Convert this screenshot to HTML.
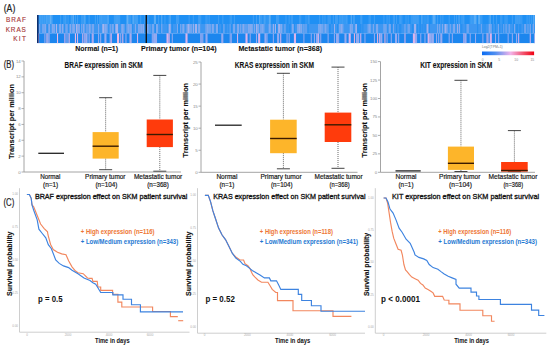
<!DOCTYPE html>
<html><head><meta charset="utf-8"><style>
html,body{margin:0;padding:0;background:#fff;}
body{width:550px;height:349px;overflow:hidden;}
svg{display:block;font-family:"Liberation Sans", sans-serif;}
</style></head><body>
<svg width="550" height="349" viewBox="0 0 550 349">
<rect width="550" height="349" fill="#fff"/>
<text x="3.70" y="12.20" font-size="10" font-weight="normal" fill="#222" stroke="#222" stroke-width="0.2" textLength="11.60" lengthAdjust="spacingAndGlyphs" >(A)</text>
<text x="6.00" y="22.30" font-size="6.4" font-weight="normal" fill="#a83a3a" stroke="#a83a3a" stroke-width="0.15" textLength="19.80" lengthAdjust="spacing" >BRAF</text>
<text x="5.70" y="31.90" font-size="6.4" font-weight="normal" fill="#a83a3a" stroke="#a83a3a" stroke-width="0.15" textLength="20.10" lengthAdjust="spacing" >KRAS</text>
<text x="13.20" y="41.20" font-size="6.4" font-weight="normal" fill="#a83a3a" stroke="#a83a3a" stroke-width="0.15" textLength="12.60" lengthAdjust="spacing" >KIT</text>
<rect x="37" y="15.0" width="498" height="9.00" fill="#1f90f4"/>
<rect x="37.00" y="15.0" width="1.05" height="9.00" fill="#40a0f5"/>
<rect x="38.05" y="15.0" width="1.05" height="9.00" fill="#40a0f5"/>
<rect x="39.11" y="15.0" width="2.11" height="9.00" fill="#40a0f5"/>
<rect x="41.21" y="15.0" width="2.11" height="9.00" fill="#40a0f5"/>
<rect x="43.32" y="15.0" width="2.11" height="9.00" fill="#40a0f5"/>
<rect x="45.42" y="15.0" width="1.05" height="9.00" fill="#40a0f5"/>
<rect x="46.48" y="15.0" width="1.05" height="9.00" fill="#62b0f5"/>
<rect x="47.53" y="15.0" width="2.11" height="9.00" fill="#40a0f5"/>
<rect x="49.63" y="15.0" width="2.11" height="9.00" fill="#62b0f5"/>
<rect x="51.74" y="15.0" width="1.05" height="9.00" fill="#40a0f5"/>
<rect x="60.16" y="15.0" width="1.05" height="9.00" fill="#40a0f5"/>
<rect x="63.32" y="15.0" width="1.05" height="9.00" fill="#40a0f5"/>
<rect x="64.37" y="15.0" width="2.11" height="9.00" fill="#40a0f5"/>
<rect x="67.53" y="15.0" width="1.05" height="9.00" fill="#40a0f5"/>
<rect x="70.69" y="15.0" width="2.11" height="9.00" fill="#40a0f5"/>
<rect x="72.80" y="15.0" width="1.05" height="9.00" fill="#62b0f5"/>
<rect x="74.90" y="15.0" width="1.05" height="9.00" fill="#40a0f5"/>
<rect x="77.01" y="15.0" width="1.05" height="9.00" fill="#40a0f5"/>
<rect x="81.22" y="15.0" width="1.05" height="9.00" fill="#40a0f5"/>
<rect x="82.27" y="15.0" width="1.05" height="9.00" fill="#40a0f5"/>
<rect x="83.33" y="15.0" width="1.05" height="9.00" fill="#40a0f5"/>
<rect x="84.38" y="15.0" width="1.05" height="9.00" fill="#62b0f5"/>
<rect x="88.59" y="15.0" width="1.05" height="9.00" fill="#40a0f5"/>
<rect x="94.91" y="15.0" width="1.05" height="9.00" fill="#40a0f5"/>
<rect x="97.01" y="15.0" width="1.05" height="9.00" fill="#40a0f5"/>
<rect x="99.12" y="15.0" width="1.05" height="9.00" fill="#40a0f5"/>
<rect x="100.17" y="15.0" width="2.11" height="9.00" fill="#40a0f5"/>
<rect x="102.28" y="15.0" width="1.05" height="9.00" fill="#40a0f5"/>
<rect x="103.33" y="15.0" width="1.05" height="9.00" fill="#40a0f5"/>
<rect x="104.38" y="15.0" width="1.05" height="9.00" fill="#40a0f5"/>
<rect x="105.44" y="15.0" width="1.05" height="9.00" fill="#40a0f5"/>
<rect x="106.49" y="15.0" width="1.05" height="9.00" fill="#40a0f5"/>
<rect x="107.54" y="15.0" width="1.05" height="9.00" fill="#62b0f5"/>
<rect x="113.86" y="15.0" width="1.05" height="9.00" fill="#40a0f5"/>
<rect x="114.91" y="15.0" width="1.05" height="9.00" fill="#40a0f5"/>
<rect x="115.96" y="15.0" width="2.11" height="9.00" fill="#40a0f5"/>
<rect x="118.07" y="15.0" width="1.05" height="9.00" fill="#40a0f5"/>
<rect x="119.12" y="15.0" width="1.05" height="9.00" fill="#40a0f5"/>
<rect x="126.49" y="15.0" width="2.11" height="9.00" fill="#62b0f5"/>
<rect x="128.60" y="15.0" width="1.05" height="9.00" fill="#40a0f5"/>
<rect x="129.65" y="15.0" width="1.05" height="9.00" fill="#40a0f5"/>
<rect x="131.76" y="15.0" width="1.05" height="9.00" fill="#40a0f5"/>
<rect x="132.81" y="15.0" width="1.05" height="9.00" fill="#62b0f5"/>
<rect x="133.86" y="15.0" width="1.05" height="9.00" fill="#40a0f5"/>
<rect x="134.92" y="15.0" width="2.11" height="9.00" fill="#40a0f5"/>
<rect x="137.02" y="15.0" width="1.05" height="9.00" fill="#40a0f5"/>
<rect x="140.18" y="15.0" width="1.05" height="9.00" fill="#40a0f5"/>
<rect x="144.39" y="15.0" width="1.05" height="9.00" fill="#40a0f5"/>
<rect x="147.55" y="15.0" width="1.05" height="9.00" fill="#3e9ef5"/>
<rect x="153.87" y="15.0" width="2.11" height="9.00" fill="#5aacf5"/>
<rect x="158.08" y="15.0" width="1.05" height="9.00" fill="#3e9ef5"/>
<rect x="161.24" y="15.0" width="1.05" height="9.00" fill="#5aacf5"/>
<rect x="164.40" y="15.0" width="1.05" height="9.00" fill="#3e9ef5"/>
<rect x="168.61" y="15.0" width="1.05" height="9.00" fill="#3e9ef5"/>
<rect x="169.66" y="15.0" width="1.05" height="9.00" fill="#5aacf5"/>
<rect x="175.98" y="15.0" width="1.05" height="9.00" fill="#3e9ef5"/>
<rect x="177.03" y="15.0" width="1.05" height="9.00" fill="#3e9ef5"/>
<rect x="178.08" y="15.0" width="1.05" height="9.00" fill="#3e9ef5"/>
<rect x="188.61" y="15.0" width="1.05" height="9.00" fill="#3e9ef5"/>
<rect x="192.82" y="15.0" width="1.05" height="9.00" fill="#3e9ef5"/>
<rect x="198.09" y="15.0" width="2.11" height="9.00" fill="#3e9ef5"/>
<rect x="200.19" y="15.0" width="1.05" height="9.00" fill="#3e9ef5"/>
<rect x="205.46" y="15.0" width="1.05" height="9.00" fill="#3e9ef5"/>
<rect x="206.51" y="15.0" width="1.05" height="9.00" fill="#3e9ef5"/>
<rect x="208.62" y="15.0" width="1.05" height="9.00" fill="#3e9ef5"/>
<rect x="218.09" y="15.0" width="1.05" height="9.00" fill="#3e9ef5"/>
<rect x="222.30" y="15.0" width="1.05" height="9.00" fill="#3e9ef5"/>
<rect x="229.67" y="15.0" width="1.05" height="9.00" fill="#3e9ef5"/>
<rect x="230.73" y="15.0" width="1.05" height="9.00" fill="#3e9ef5"/>
<rect x="233.88" y="15.0" width="1.05" height="9.00" fill="#3e9ef5"/>
<rect x="252.84" y="15.0" width="1.05" height="9.00" fill="#3e9ef5"/>
<rect x="255.99" y="15.0" width="1.05" height="9.00" fill="#3e9ef5"/>
<rect x="259.15" y="15.0" width="1.05" height="9.00" fill="#5aacf5"/>
<rect x="260.21" y="15.0" width="1.05" height="9.00" fill="#3e9ef5"/>
<rect x="261.26" y="15.0" width="1.05" height="9.00" fill="#3e9ef5"/>
<rect x="263.36" y="15.0" width="1.05" height="9.00" fill="#3e9ef5"/>
<rect x="264.42" y="15.0" width="1.05" height="9.00" fill="#5aacf5"/>
<rect x="266.52" y="15.0" width="1.05" height="9.00" fill="#3e9ef5"/>
<rect x="268.63" y="15.0" width="2.11" height="9.00" fill="#5aacf5"/>
<rect x="276.00" y="15.0" width="1.05" height="9.00" fill="#3e9ef5"/>
<rect x="277.05" y="15.0" width="1.05" height="9.00" fill="#3e9ef5"/>
<rect x="278.10" y="15.0" width="1.05" height="9.00" fill="#3e9ef5"/>
<rect x="285.47" y="15.0" width="1.05" height="9.00" fill="#3e9ef5"/>
<rect x="288.63" y="15.0" width="1.05" height="9.00" fill="#3e9ef5"/>
<rect x="290.74" y="15.0" width="1.05" height="9.00" fill="#3e9ef5"/>
<rect x="291.79" y="15.0" width="1.05" height="9.00" fill="#3e9ef5"/>
<rect x="299.16" y="15.0" width="1.05" height="9.00" fill="#3e9ef5"/>
<rect x="300.21" y="15.0" width="1.05" height="9.00" fill="#3e9ef5"/>
<rect x="305.48" y="15.0" width="1.05" height="9.00" fill="#3e9ef5"/>
<rect x="307.58" y="15.0" width="2.11" height="9.00" fill="#3e9ef5"/>
<rect x="319.16" y="15.0" width="1.05" height="9.00" fill="#3e9ef5"/>
<rect x="322.32" y="15.0" width="1.05" height="9.00" fill="#3e9ef5"/>
<rect x="324.43" y="15.0" width="1.05" height="9.00" fill="#3e9ef5"/>
<rect x="327.59" y="15.0" width="1.05" height="9.00" fill="#3e9ef5"/>
<rect x="328.64" y="15.0" width="1.05" height="9.00" fill="#3e9ef5"/>
<rect x="329.69" y="15.0" width="1.05" height="9.00" fill="#3e9ef5"/>
<rect x="332.85" y="15.0" width="1.05" height="9.00" fill="#3e9ef5"/>
<rect x="334.96" y="15.0" width="1.05" height="9.00" fill="#3e9ef5"/>
<rect x="336.01" y="15.0" width="1.05" height="9.00" fill="#3e9ef5"/>
<rect x="337.06" y="15.0" width="1.05" height="9.00" fill="#3e9ef5"/>
<rect x="339.17" y="15.0" width="1.05" height="9.00" fill="#3e9ef5"/>
<rect x="340.22" y="15.0" width="1.05" height="9.00" fill="#3e9ef5"/>
<rect x="341.27" y="15.0" width="2.11" height="9.00" fill="#3e9ef5"/>
<rect x="343.38" y="15.0" width="1.05" height="9.00" fill="#3e9ef5"/>
<rect x="344.43" y="15.0" width="1.05" height="9.00" fill="#3e9ef5"/>
<rect x="345.49" y="15.0" width="2.11" height="9.00" fill="#3e9ef5"/>
<rect x="350.75" y="15.0" width="1.05" height="9.00" fill="#5aacf5"/>
<rect x="352.86" y="15.0" width="2.11" height="9.00" fill="#3e9ef5"/>
<rect x="360.23" y="15.0" width="2.11" height="9.00" fill="#3e9ef5"/>
<rect x="368.65" y="15.0" width="1.05" height="9.00" fill="#3e9ef5"/>
<rect x="369.70" y="15.0" width="1.05" height="9.00" fill="#3e9ef5"/>
<rect x="373.91" y="15.0" width="1.05" height="9.00" fill="#3e9ef5"/>
<rect x="383.39" y="15.0" width="1.05" height="9.00" fill="#3e9ef5"/>
<rect x="386.55" y="15.0" width="1.05" height="9.00" fill="#3e9ef5"/>
<rect x="388.65" y="15.0" width="1.05" height="9.00" fill="#3e9ef5"/>
<rect x="392.86" y="15.0" width="1.05" height="9.00" fill="#3e9ef5"/>
<rect x="393.92" y="15.0" width="1.05" height="9.00" fill="#3e9ef5"/>
<rect x="396.02" y="15.0" width="1.05" height="9.00" fill="#3e9ef5"/>
<rect x="399.18" y="15.0" width="2.11" height="9.00" fill="#3e9ef5"/>
<rect x="401.29" y="15.0" width="1.05" height="9.00" fill="#3e9ef5"/>
<rect x="405.50" y="15.0" width="1.05" height="9.00" fill="#3e9ef5"/>
<rect x="407.60" y="15.0" width="1.05" height="9.00" fill="#3e9ef5"/>
<rect x="410.76" y="15.0" width="1.05" height="9.00" fill="#3e9ef5"/>
<rect x="411.82" y="15.0" width="1.05" height="9.00" fill="#3e9ef5"/>
<rect x="412.87" y="15.0" width="2.11" height="9.00" fill="#3e9ef5"/>
<rect x="414.97" y="15.0" width="1.05" height="9.00" fill="#3e9ef5"/>
<rect x="416.03" y="15.0" width="2.11" height="9.00" fill="#3e9ef5"/>
<rect x="418.13" y="15.0" width="1.05" height="9.00" fill="#3e9ef5"/>
<rect x="421.29" y="15.0" width="1.05" height="9.00" fill="#5aacf5"/>
<rect x="422.34" y="15.0" width="1.05" height="9.00" fill="#3e9ef5"/>
<rect x="424.45" y="15.0" width="1.05" height="9.00" fill="#3e9ef5"/>
<rect x="426.56" y="15.0" width="1.05" height="9.00" fill="#3e9ef5"/>
<rect x="427.61" y="15.0" width="1.05" height="9.00" fill="#3e9ef5"/>
<rect x="431.82" y="15.0" width="1.05" height="9.00" fill="#3e9ef5"/>
<rect x="432.87" y="15.0" width="2.11" height="9.00" fill="#5aacf5"/>
<rect x="434.98" y="15.0" width="1.05" height="9.00" fill="#3e9ef5"/>
<rect x="437.08" y="15.0" width="1.05" height="9.00" fill="#3e9ef5"/>
<rect x="440.24" y="15.0" width="1.05" height="9.00" fill="#3e9ef5"/>
<rect x="442.35" y="15.0" width="1.05" height="9.00" fill="#3e9ef5"/>
<rect x="448.67" y="15.0" width="1.05" height="9.00" fill="#3e9ef5"/>
<rect x="453.93" y="15.0" width="1.05" height="9.00" fill="#3e9ef5"/>
<rect x="456.04" y="15.0" width="1.05" height="9.00" fill="#3e9ef5"/>
<rect x="458.14" y="15.0" width="2.11" height="9.00" fill="#3e9ef5"/>
<rect x="461.30" y="15.0" width="1.05" height="9.00" fill="#3e9ef5"/>
<rect x="462.35" y="15.0" width="2.11" height="9.00" fill="#3e9ef5"/>
<rect x="469.72" y="15.0" width="1.05" height="9.00" fill="#3e9ef5"/>
<rect x="470.78" y="15.0" width="2.11" height="9.00" fill="#3e9ef5"/>
<rect x="472.88" y="15.0" width="1.05" height="9.00" fill="#3e9ef5"/>
<rect x="473.93" y="15.0" width="2.11" height="9.00" fill="#5aacf5"/>
<rect x="476.04" y="15.0" width="1.05" height="9.00" fill="#3e9ef5"/>
<rect x="478.15" y="15.0" width="2.11" height="9.00" fill="#5aacf5"/>
<rect x="480.25" y="15.0" width="1.05" height="9.00" fill="#3e9ef5"/>
<rect x="481.30" y="15.0" width="1.05" height="9.00" fill="#3e9ef5"/>
<rect x="488.67" y="15.0" width="1.05" height="9.00" fill="#3e9ef5"/>
<rect x="489.73" y="15.0" width="1.05" height="9.00" fill="#5aacf5"/>
<rect x="492.89" y="15.0" width="1.05" height="9.00" fill="#3e9ef5"/>
<rect x="496.04" y="15.0" width="1.05" height="9.00" fill="#3e9ef5"/>
<rect x="500.26" y="15.0" width="1.05" height="9.00" fill="#3e9ef5"/>
<rect x="501.31" y="15.0" width="1.05" height="9.00" fill="#3e9ef5"/>
<rect x="504.47" y="15.0" width="1.05" height="9.00" fill="#3e9ef5"/>
<rect x="505.52" y="15.0" width="1.05" height="9.00" fill="#3e9ef5"/>
<rect x="506.57" y="15.0" width="1.05" height="9.00" fill="#3e9ef5"/>
<rect x="511.84" y="15.0" width="1.05" height="9.00" fill="#3e9ef5"/>
<rect x="515.00" y="15.0" width="1.05" height="9.00" fill="#3e9ef5"/>
<rect x="516.05" y="15.0" width="2.11" height="9.00" fill="#3e9ef5"/>
<rect x="518.15" y="15.0" width="2.11" height="9.00" fill="#3e9ef5"/>
<rect x="520.26" y="15.0" width="1.05" height="9.00" fill="#3e9ef5"/>
<rect x="521.31" y="15.0" width="1.05" height="9.00" fill="#3e9ef5"/>
<rect x="526.58" y="15.0" width="1.05" height="9.00" fill="#3e9ef5"/>
<rect x="528.68" y="15.0" width="1.05" height="9.00" fill="#3e9ef5"/>
<rect x="530.79" y="15.0" width="1.05" height="9.00" fill="#3e9ef5"/>
<rect x="532.89" y="15.0" width="1.05" height="9.00" fill="#5aacf5"/>
<rect x="533.95" y="15.0" width="1.05" height="9.00" fill="#3e9ef5"/>
<rect x="37" y="24.0" width="498" height="9.40" fill="#3d97f2"/>
<rect x="39.11" y="24.0" width="1.05" height="9.40" fill="#80aaf0"/>
<rect x="42.26" y="24.0" width="1.05" height="9.40" fill="#80aaf0"/>
<rect x="43.32" y="24.0" width="1.05" height="9.40" fill="#80aaf0"/>
<rect x="44.37" y="24.0" width="2.11" height="9.40" fill="#80aaf0"/>
<rect x="46.48" y="24.0" width="1.05" height="9.40" fill="#2590f2"/>
<rect x="48.58" y="24.0" width="1.05" height="9.40" fill="#a4b4ee"/>
<rect x="51.74" y="24.0" width="2.11" height="9.40" fill="#80aaf0"/>
<rect x="53.85" y="24.0" width="1.05" height="9.40" fill="#80aaf0"/>
<rect x="55.95" y="24.0" width="1.05" height="9.40" fill="#a4b4ee"/>
<rect x="59.11" y="24.0" width="2.11" height="9.40" fill="#80aaf0"/>
<rect x="62.27" y="24.0" width="1.05" height="9.40" fill="#a4b4ee"/>
<rect x="64.37" y="24.0" width="1.05" height="9.40" fill="#2590f2"/>
<rect x="65.43" y="24.0" width="1.05" height="9.40" fill="#80aaf0"/>
<rect x="66.48" y="24.0" width="1.05" height="9.40" fill="#80aaf0"/>
<rect x="68.59" y="24.0" width="1.05" height="9.40" fill="#2590f2"/>
<rect x="69.64" y="24.0" width="1.05" height="9.40" fill="#a4b4ee"/>
<rect x="71.74" y="24.0" width="1.05" height="9.40" fill="#80aaf0"/>
<rect x="72.80" y="24.0" width="2.11" height="9.40" fill="#80aaf0"/>
<rect x="75.96" y="24.0" width="1.05" height="9.40" fill="#a4b4ee"/>
<rect x="77.01" y="24.0" width="1.05" height="9.40" fill="#80aaf0"/>
<rect x="78.06" y="24.0" width="1.05" height="9.40" fill="#80aaf0"/>
<rect x="79.11" y="24.0" width="1.05" height="9.40" fill="#80aaf0"/>
<rect x="80.17" y="24.0" width="1.05" height="9.40" fill="#2590f2"/>
<rect x="81.22" y="24.0" width="1.05" height="9.40" fill="#80aaf0"/>
<rect x="83.33" y="24.0" width="1.05" height="9.40" fill="#a4b4ee"/>
<rect x="86.48" y="24.0" width="1.05" height="9.40" fill="#80aaf0"/>
<rect x="88.59" y="24.0" width="2.11" height="9.40" fill="#80aaf0"/>
<rect x="91.75" y="24.0" width="1.05" height="9.40" fill="#80aaf0"/>
<rect x="92.80" y="24.0" width="1.05" height="9.40" fill="#80aaf0"/>
<rect x="98.07" y="24.0" width="1.05" height="9.40" fill="#80aaf0"/>
<rect x="102.28" y="24.0" width="2.11" height="9.40" fill="#a4b4ee"/>
<rect x="104.38" y="24.0" width="1.05" height="9.40" fill="#80aaf0"/>
<rect x="105.44" y="24.0" width="1.05" height="9.40" fill="#a4b4ee"/>
<rect x="106.49" y="24.0" width="1.05" height="9.40" fill="#80aaf0"/>
<rect x="108.59" y="24.0" width="1.05" height="9.40" fill="#2590f2"/>
<rect x="109.65" y="24.0" width="1.05" height="9.40" fill="#80aaf0"/>
<rect x="111.75" y="24.0" width="1.05" height="9.40" fill="#80aaf0"/>
<rect x="112.81" y="24.0" width="1.05" height="9.40" fill="#80aaf0"/>
<rect x="113.86" y="24.0" width="1.05" height="9.40" fill="#2590f2"/>
<rect x="114.91" y="24.0" width="1.05" height="9.40" fill="#80aaf0"/>
<rect x="115.96" y="24.0" width="2.11" height="9.40" fill="#a4b4ee"/>
<rect x="121.23" y="24.0" width="2.11" height="9.40" fill="#80aaf0"/>
<rect x="123.33" y="24.0" width="1.05" height="9.40" fill="#80aaf0"/>
<rect x="125.44" y="24.0" width="1.05" height="9.40" fill="#2590f2"/>
<rect x="126.49" y="24.0" width="1.05" height="9.40" fill="#80aaf0"/>
<rect x="127.55" y="24.0" width="2.11" height="9.40" fill="#80aaf0"/>
<rect x="129.65" y="24.0" width="1.05" height="9.40" fill="#80aaf0"/>
<rect x="130.70" y="24.0" width="1.05" height="9.40" fill="#a4b4ee"/>
<rect x="131.76" y="24.0" width="1.05" height="9.40" fill="#2590f2"/>
<rect x="134.92" y="24.0" width="1.05" height="9.40" fill="#80aaf0"/>
<rect x="138.07" y="24.0" width="1.05" height="9.40" fill="#80aaf0"/>
<rect x="139.13" y="24.0" width="1.05" height="9.40" fill="#80aaf0"/>
<rect x="140.18" y="24.0" width="2.11" height="9.40" fill="#80aaf0"/>
<rect x="142.29" y="24.0" width="1.05" height="9.40" fill="#80aaf0"/>
<rect x="143.34" y="24.0" width="1.05" height="9.40" fill="#a4b4ee"/>
<rect x="144.39" y="24.0" width="1.05" height="9.40" fill="#2590f2"/>
<rect x="146.50" y="24.0" width="2.11" height="9.40" fill="#7eaaf0"/>
<rect x="149.66" y="24.0" width="1.05" height="9.40" fill="#7eaaf0"/>
<rect x="150.71" y="24.0" width="1.05" height="9.40" fill="#2590f2"/>
<rect x="151.76" y="24.0" width="1.05" height="9.40" fill="#7eaaf0"/>
<rect x="152.81" y="24.0" width="1.05" height="9.40" fill="#7eaaf0"/>
<rect x="154.92" y="24.0" width="1.05" height="9.40" fill="#2590f2"/>
<rect x="155.97" y="24.0" width="1.05" height="9.40" fill="#7eaaf0"/>
<rect x="157.03" y="24.0" width="1.05" height="9.40" fill="#7eaaf0"/>
<rect x="160.18" y="24.0" width="1.05" height="9.40" fill="#2590f2"/>
<rect x="161.24" y="24.0" width="1.05" height="9.40" fill="#7eaaf0"/>
<rect x="167.55" y="24.0" width="1.05" height="9.40" fill="#2590f2"/>
<rect x="168.61" y="24.0" width="2.11" height="9.40" fill="#a0b2ee"/>
<rect x="171.77" y="24.0" width="1.05" height="9.40" fill="#2590f2"/>
<rect x="177.03" y="24.0" width="1.05" height="9.40" fill="#7eaaf0"/>
<rect x="178.08" y="24.0" width="1.05" height="9.40" fill="#2590f2"/>
<rect x="179.14" y="24.0" width="1.05" height="9.40" fill="#2590f2"/>
<rect x="180.19" y="24.0" width="1.05" height="9.40" fill="#7eaaf0"/>
<rect x="182.29" y="24.0" width="2.11" height="9.40" fill="#7eaaf0"/>
<rect x="186.51" y="24.0" width="1.05" height="9.40" fill="#7eaaf0"/>
<rect x="187.56" y="24.0" width="2.11" height="9.40" fill="#a0b2ee"/>
<rect x="189.66" y="24.0" width="1.05" height="9.40" fill="#7eaaf0"/>
<rect x="190.72" y="24.0" width="1.05" height="9.40" fill="#7eaaf0"/>
<rect x="192.82" y="24.0" width="1.05" height="9.40" fill="#a0b2ee"/>
<rect x="194.93" y="24.0" width="2.11" height="9.40" fill="#a0b2ee"/>
<rect x="198.09" y="24.0" width="2.11" height="9.40" fill="#7eaaf0"/>
<rect x="205.46" y="24.0" width="1.05" height="9.40" fill="#7eaaf0"/>
<rect x="206.51" y="24.0" width="2.11" height="9.40" fill="#7eaaf0"/>
<rect x="208.62" y="24.0" width="1.05" height="9.40" fill="#7eaaf0"/>
<rect x="209.67" y="24.0" width="1.05" height="9.40" fill="#7eaaf0"/>
<rect x="211.77" y="24.0" width="2.11" height="9.40" fill="#7eaaf0"/>
<rect x="215.99" y="24.0" width="2.11" height="9.40" fill="#7eaaf0"/>
<rect x="218.09" y="24.0" width="1.05" height="9.40" fill="#2590f2"/>
<rect x="221.25" y="24.0" width="1.05" height="9.40" fill="#2590f2"/>
<rect x="222.30" y="24.0" width="1.05" height="9.40" fill="#2590f2"/>
<rect x="223.36" y="24.0" width="1.05" height="9.40" fill="#7eaaf0"/>
<rect x="225.46" y="24.0" width="1.05" height="9.40" fill="#2590f2"/>
<rect x="228.62" y="24.0" width="1.05" height="9.40" fill="#2590f2"/>
<rect x="229.67" y="24.0" width="1.05" height="9.40" fill="#7eaaf0"/>
<rect x="230.73" y="24.0" width="1.05" height="9.40" fill="#2590f2"/>
<rect x="231.78" y="24.0" width="1.05" height="9.40" fill="#2590f2"/>
<rect x="232.83" y="24.0" width="1.05" height="9.40" fill="#7eaaf0"/>
<rect x="233.88" y="24.0" width="1.05" height="9.40" fill="#7eaaf0"/>
<rect x="237.04" y="24.0" width="2.11" height="9.40" fill="#7eaaf0"/>
<rect x="240.20" y="24.0" width="1.05" height="9.40" fill="#7eaaf0"/>
<rect x="242.31" y="24.0" width="1.05" height="9.40" fill="#7eaaf0"/>
<rect x="243.36" y="24.0" width="1.05" height="9.40" fill="#a0b2ee"/>
<rect x="245.47" y="24.0" width="1.05" height="9.40" fill="#7eaaf0"/>
<rect x="247.57" y="24.0" width="2.11" height="9.40" fill="#7eaaf0"/>
<rect x="249.68" y="24.0" width="1.05" height="9.40" fill="#a0b2ee"/>
<rect x="250.73" y="24.0" width="2.11" height="9.40" fill="#7eaaf0"/>
<rect x="253.89" y="24.0" width="1.05" height="9.40" fill="#7eaaf0"/>
<rect x="255.99" y="24.0" width="1.05" height="9.40" fill="#a0b2ee"/>
<rect x="257.05" y="24.0" width="1.05" height="9.40" fill="#7eaaf0"/>
<rect x="258.10" y="24.0" width="1.05" height="9.40" fill="#7eaaf0"/>
<rect x="260.21" y="24.0" width="1.05" height="9.40" fill="#7eaaf0"/>
<rect x="261.26" y="24.0" width="2.11" height="9.40" fill="#7eaaf0"/>
<rect x="263.36" y="24.0" width="1.05" height="9.40" fill="#7eaaf0"/>
<rect x="268.63" y="24.0" width="2.11" height="9.40" fill="#7eaaf0"/>
<rect x="272.84" y="24.0" width="1.05" height="9.40" fill="#a0b2ee"/>
<rect x="274.95" y="24.0" width="1.05" height="9.40" fill="#a0b2ee"/>
<rect x="276.00" y="24.0" width="1.05" height="9.40" fill="#2590f2"/>
<rect x="278.10" y="24.0" width="2.11" height="9.40" fill="#a0b2ee"/>
<rect x="280.21" y="24.0" width="2.11" height="9.40" fill="#7eaaf0"/>
<rect x="284.42" y="24.0" width="1.05" height="9.40" fill="#7eaaf0"/>
<rect x="286.53" y="24.0" width="1.05" height="9.40" fill="#2590f2"/>
<rect x="288.63" y="24.0" width="2.11" height="9.40" fill="#2590f2"/>
<rect x="291.79" y="24.0" width="2.11" height="9.40" fill="#7eaaf0"/>
<rect x="293.90" y="24.0" width="1.05" height="9.40" fill="#2590f2"/>
<rect x="297.05" y="24.0" width="2.11" height="9.40" fill="#7eaaf0"/>
<rect x="299.16" y="24.0" width="1.05" height="9.40" fill="#a0b2ee"/>
<rect x="300.21" y="24.0" width="2.11" height="9.40" fill="#7eaaf0"/>
<rect x="303.37" y="24.0" width="1.05" height="9.40" fill="#7eaaf0"/>
<rect x="305.48" y="24.0" width="1.05" height="9.40" fill="#7eaaf0"/>
<rect x="307.58" y="24.0" width="1.05" height="9.40" fill="#2590f2"/>
<rect x="318.11" y="24.0" width="1.05" height="9.40" fill="#7eaaf0"/>
<rect x="319.16" y="24.0" width="2.11" height="9.40" fill="#7eaaf0"/>
<rect x="321.27" y="24.0" width="1.05" height="9.40" fill="#7eaaf0"/>
<rect x="322.32" y="24.0" width="1.05" height="9.40" fill="#7eaaf0"/>
<rect x="324.43" y="24.0" width="2.11" height="9.40" fill="#7eaaf0"/>
<rect x="327.59" y="24.0" width="1.05" height="9.40" fill="#7eaaf0"/>
<rect x="328.64" y="24.0" width="2.11" height="9.40" fill="#2590f2"/>
<rect x="332.85" y="24.0" width="1.05" height="9.40" fill="#2590f2"/>
<rect x="333.90" y="24.0" width="1.05" height="9.40" fill="#a0b2ee"/>
<rect x="337.06" y="24.0" width="1.05" height="9.40" fill="#2590f2"/>
<rect x="339.17" y="24.0" width="1.05" height="9.40" fill="#7eaaf0"/>
<rect x="340.22" y="24.0" width="1.05" height="9.40" fill="#7eaaf0"/>
<rect x="341.27" y="24.0" width="1.05" height="9.40" fill="#a0b2ee"/>
<rect x="342.33" y="24.0" width="1.05" height="9.40" fill="#7eaaf0"/>
<rect x="349.70" y="24.0" width="2.11" height="9.40" fill="#7eaaf0"/>
<rect x="351.80" y="24.0" width="1.05" height="9.40" fill="#7eaaf0"/>
<rect x="354.96" y="24.0" width="1.05" height="9.40" fill="#7eaaf0"/>
<rect x="356.01" y="24.0" width="1.05" height="9.40" fill="#a0b2ee"/>
<rect x="357.07" y="24.0" width="2.11" height="9.40" fill="#2590f2"/>
<rect x="359.17" y="24.0" width="2.11" height="9.40" fill="#2590f2"/>
<rect x="362.33" y="24.0" width="1.05" height="9.40" fill="#2590f2"/>
<rect x="367.60" y="24.0" width="1.05" height="9.40" fill="#7eaaf0"/>
<rect x="368.65" y="24.0" width="2.11" height="9.40" fill="#7eaaf0"/>
<rect x="372.86" y="24.0" width="1.05" height="9.40" fill="#7eaaf0"/>
<rect x="376.02" y="24.0" width="2.11" height="9.40" fill="#7eaaf0"/>
<rect x="383.39" y="24.0" width="1.05" height="9.40" fill="#7eaaf0"/>
<rect x="384.44" y="24.0" width="1.05" height="9.40" fill="#7eaaf0"/>
<rect x="385.49" y="24.0" width="1.05" height="9.40" fill="#7eaaf0"/>
<rect x="387.60" y="24.0" width="1.05" height="9.40" fill="#2590f2"/>
<rect x="388.65" y="24.0" width="1.05" height="9.40" fill="#7eaaf0"/>
<rect x="389.71" y="24.0" width="1.05" height="9.40" fill="#a0b2ee"/>
<rect x="390.76" y="24.0" width="1.05" height="9.40" fill="#2590f2"/>
<rect x="391.81" y="24.0" width="1.05" height="9.40" fill="#2590f2"/>
<rect x="392.86" y="24.0" width="1.05" height="9.40" fill="#7eaaf0"/>
<rect x="396.02" y="24.0" width="1.05" height="9.40" fill="#2590f2"/>
<rect x="399.18" y="24.0" width="1.05" height="9.40" fill="#2590f2"/>
<rect x="400.23" y="24.0" width="1.05" height="9.40" fill="#2590f2"/>
<rect x="404.45" y="24.0" width="1.05" height="9.40" fill="#7eaaf0"/>
<rect x="407.60" y="24.0" width="1.05" height="9.40" fill="#7eaaf0"/>
<rect x="408.66" y="24.0" width="1.05" height="9.40" fill="#7eaaf0"/>
<rect x="411.82" y="24.0" width="2.11" height="9.40" fill="#2590f2"/>
<rect x="413.92" y="24.0" width="1.05" height="9.40" fill="#a0b2ee"/>
<rect x="414.97" y="24.0" width="1.05" height="9.40" fill="#a0b2ee"/>
<rect x="417.08" y="24.0" width="1.05" height="9.40" fill="#2590f2"/>
<rect x="419.19" y="24.0" width="2.11" height="9.40" fill="#2590f2"/>
<rect x="422.34" y="24.0" width="1.05" height="9.40" fill="#2590f2"/>
<rect x="424.45" y="24.0" width="1.05" height="9.40" fill="#2590f2"/>
<rect x="425.50" y="24.0" width="1.05" height="9.40" fill="#2590f2"/>
<rect x="426.56" y="24.0" width="2.11" height="9.40" fill="#a0b2ee"/>
<rect x="428.66" y="24.0" width="1.05" height="9.40" fill="#2590f2"/>
<rect x="437.08" y="24.0" width="1.05" height="9.40" fill="#7eaaf0"/>
<rect x="439.19" y="24.0" width="1.05" height="9.40" fill="#7eaaf0"/>
<rect x="442.35" y="24.0" width="1.05" height="9.40" fill="#a0b2ee"/>
<rect x="443.40" y="24.0" width="1.05" height="9.40" fill="#2590f2"/>
<rect x="444.45" y="24.0" width="2.11" height="9.40" fill="#a0b2ee"/>
<rect x="446.56" y="24.0" width="1.05" height="9.40" fill="#7eaaf0"/>
<rect x="449.72" y="24.0" width="1.05" height="9.40" fill="#7eaaf0"/>
<rect x="452.88" y="24.0" width="1.05" height="9.40" fill="#7eaaf0"/>
<rect x="453.93" y="24.0" width="1.05" height="9.40" fill="#7eaaf0"/>
<rect x="457.09" y="24.0" width="1.05" height="9.40" fill="#a0b2ee"/>
<rect x="459.19" y="24.0" width="1.05" height="9.40" fill="#a0b2ee"/>
<rect x="460.25" y="24.0" width="1.05" height="9.40" fill="#2590f2"/>
<rect x="461.30" y="24.0" width="1.05" height="9.40" fill="#2590f2"/>
<rect x="465.51" y="24.0" width="1.05" height="9.40" fill="#2590f2"/>
<rect x="466.56" y="24.0" width="1.05" height="9.40" fill="#7eaaf0"/>
<rect x="467.62" y="24.0" width="1.05" height="9.40" fill="#7eaaf0"/>
<rect x="477.09" y="24.0" width="1.05" height="9.40" fill="#2590f2"/>
<rect x="481.30" y="24.0" width="1.05" height="9.40" fill="#7eaaf0"/>
<rect x="482.36" y="24.0" width="1.05" height="9.40" fill="#2590f2"/>
<rect x="484.46" y="24.0" width="1.05" height="9.40" fill="#2590f2"/>
<rect x="488.67" y="24.0" width="2.11" height="9.40" fill="#7eaaf0"/>
<rect x="490.78" y="24.0" width="1.05" height="9.40" fill="#7eaaf0"/>
<rect x="491.83" y="24.0" width="1.05" height="9.40" fill="#2590f2"/>
<rect x="494.99" y="24.0" width="1.05" height="9.40" fill="#2590f2"/>
<rect x="498.15" y="24.0" width="1.05" height="9.40" fill="#7eaaf0"/>
<rect x="499.20" y="24.0" width="1.05" height="9.40" fill="#2590f2"/>
<rect x="502.36" y="24.0" width="1.05" height="9.40" fill="#2590f2"/>
<rect x="503.41" y="24.0" width="1.05" height="9.40" fill="#7eaaf0"/>
<rect x="504.47" y="24.0" width="1.05" height="9.40" fill="#2590f2"/>
<rect x="505.52" y="24.0" width="1.05" height="9.40" fill="#7eaaf0"/>
<rect x="508.68" y="24.0" width="1.05" height="9.40" fill="#7eaaf0"/>
<rect x="512.89" y="24.0" width="1.05" height="9.40" fill="#2590f2"/>
<rect x="513.94" y="24.0" width="1.05" height="9.40" fill="#7eaaf0"/>
<rect x="516.05" y="24.0" width="2.11" height="9.40" fill="#2590f2"/>
<rect x="519.21" y="24.0" width="1.05" height="9.40" fill="#2590f2"/>
<rect x="520.26" y="24.0" width="1.05" height="9.40" fill="#2590f2"/>
<rect x="523.42" y="24.0" width="1.05" height="9.40" fill="#2590f2"/>
<rect x="524.47" y="24.0" width="1.05" height="9.40" fill="#a0b2ee"/>
<rect x="527.63" y="24.0" width="1.05" height="9.40" fill="#7eaaf0"/>
<rect x="528.68" y="24.0" width="1.05" height="9.40" fill="#2590f2"/>
<rect x="529.74" y="24.0" width="1.05" height="9.40" fill="#a0b2ee"/>
<rect x="530.79" y="24.0" width="1.05" height="9.40" fill="#2590f2"/>
<rect x="532.89" y="24.0" width="1.05" height="9.40" fill="#7eaaf0"/>
<rect x="37" y="33.4" width="498" height="9.70" fill="#1c86ee"/>
<rect x="37.00" y="33.4" width="2.11" height="9.70" fill="#dcb4ea"/>
<rect x="44.37" y="33.4" width="1.05" height="9.70" fill="#98acf0"/>
<rect x="46.48" y="33.4" width="1.05" height="9.70" fill="#f2bce4"/>
<rect x="47.53" y="33.4" width="1.05" height="9.70" fill="#98acf0"/>
<rect x="48.58" y="33.4" width="1.05" height="9.70" fill="#98acf0"/>
<rect x="57.00" y="33.4" width="1.05" height="9.70" fill="#f2bce4"/>
<rect x="64.37" y="33.4" width="1.05" height="9.70" fill="#dcb4ea"/>
<rect x="66.48" y="33.4" width="1.05" height="9.70" fill="#98acf0"/>
<rect x="68.59" y="33.4" width="1.05" height="9.70" fill="#f2bce4"/>
<rect x="74.90" y="33.4" width="1.05" height="9.70" fill="#f2bce4"/>
<rect x="77.01" y="33.4" width="1.05" height="9.70" fill="#dcb4ea"/>
<rect x="82.27" y="33.4" width="1.05" height="9.70" fill="#dcb4ea"/>
<rect x="84.38" y="33.4" width="1.05" height="9.70" fill="#dcb4ea"/>
<rect x="85.43" y="33.4" width="2.11" height="9.70" fill="#98acf0"/>
<rect x="88.59" y="33.4" width="1.05" height="9.70" fill="#98acf0"/>
<rect x="91.75" y="33.4" width="1.05" height="9.70" fill="#dcb4ea"/>
<rect x="92.80" y="33.4" width="1.05" height="9.70" fill="#98acf0"/>
<rect x="98.07" y="33.4" width="1.05" height="9.70" fill="#98acf0"/>
<rect x="100.17" y="33.4" width="1.05" height="9.70" fill="#98acf0"/>
<rect x="104.38" y="33.4" width="2.11" height="9.70" fill="#98acf0"/>
<rect x="109.65" y="33.4" width="1.05" height="9.70" fill="#98acf0"/>
<rect x="110.70" y="33.4" width="1.05" height="9.70" fill="#dcb4ea"/>
<rect x="117.02" y="33.4" width="2.11" height="9.70" fill="#f2bce4"/>
<rect x="120.18" y="33.4" width="1.05" height="9.70" fill="#98acf0"/>
<rect x="122.28" y="33.4" width="1.05" height="9.70" fill="#dcb4ea"/>
<rect x="125.44" y="33.4" width="1.05" height="9.70" fill="#98acf0"/>
<rect x="129.65" y="33.4" width="1.05" height="9.70" fill="#f2bce4"/>
<rect x="130.70" y="33.4" width="1.05" height="9.70" fill="#98acf0"/>
<rect x="137.02" y="33.4" width="1.05" height="9.70" fill="#dcb4ea"/>
<rect x="151.76" y="33.4" width="1.05" height="9.70" fill="#94aaf0"/>
<rect x="152.81" y="33.4" width="1.05" height="9.70" fill="#94aaf0"/>
<rect x="153.87" y="33.4" width="2.11" height="9.70" fill="#94aaf0"/>
<rect x="155.97" y="33.4" width="1.05" height="9.70" fill="#94aaf0"/>
<rect x="166.50" y="33.4" width="2.11" height="9.70" fill="#dcb4ea"/>
<rect x="168.61" y="33.4" width="1.05" height="9.70" fill="#dcb4ea"/>
<rect x="171.77" y="33.4" width="1.05" height="9.70" fill="#94aaf0"/>
<rect x="185.45" y="33.4" width="2.11" height="9.70" fill="#dcb4ea"/>
<rect x="200.19" y="33.4" width="1.05" height="9.70" fill="#94aaf0"/>
<rect x="201.25" y="33.4" width="1.05" height="9.70" fill="#94aaf0"/>
<rect x="202.30" y="33.4" width="1.05" height="9.70" fill="#94aaf0"/>
<rect x="205.46" y="33.4" width="2.11" height="9.70" fill="#94aaf0"/>
<rect x="221.25" y="33.4" width="2.11" height="9.70" fill="#94aaf0"/>
<rect x="229.67" y="33.4" width="1.05" height="9.70" fill="#94aaf0"/>
<rect x="230.73" y="33.4" width="1.05" height="9.70" fill="#94aaf0"/>
<rect x="237.04" y="33.4" width="1.05" height="9.70" fill="#dcb4ea"/>
<rect x="245.47" y="33.4" width="2.11" height="9.70" fill="#dcb4ea"/>
<rect x="249.68" y="33.4" width="1.05" height="9.70" fill="#94aaf0"/>
<rect x="255.99" y="33.4" width="1.05" height="9.70" fill="#94aaf0"/>
<rect x="258.10" y="33.4" width="2.11" height="9.70" fill="#dcb4ea"/>
<rect x="264.42" y="33.4" width="2.11" height="9.70" fill="#94aaf0"/>
<rect x="266.52" y="33.4" width="1.05" height="9.70" fill="#94aaf0"/>
<rect x="272.84" y="33.4" width="1.05" height="9.70" fill="#94aaf0"/>
<rect x="277.05" y="33.4" width="2.11" height="9.70" fill="#94aaf0"/>
<rect x="280.21" y="33.4" width="1.05" height="9.70" fill="#dcb4ea"/>
<rect x="286.53" y="33.4" width="1.05" height="9.70" fill="#94aaf0"/>
<rect x="288.63" y="33.4" width="1.05" height="9.70" fill="#94aaf0"/>
<rect x="293.90" y="33.4" width="2.11" height="9.70" fill="#dcb4ea"/>
<rect x="303.37" y="33.4" width="1.05" height="9.70" fill="#94aaf0"/>
<rect x="310.74" y="33.4" width="1.05" height="9.70" fill="#94aaf0"/>
<rect x="313.90" y="33.4" width="1.05" height="9.70" fill="#94aaf0"/>
<rect x="316.01" y="33.4" width="2.11" height="9.70" fill="#94aaf0"/>
<rect x="318.11" y="33.4" width="1.05" height="9.70" fill="#dcb4ea"/>
<rect x="320.22" y="33.4" width="1.05" height="9.70" fill="#94aaf0"/>
<rect x="327.59" y="33.4" width="1.05" height="9.70" fill="#94aaf0"/>
<rect x="333.90" y="33.4" width="1.05" height="9.70" fill="#94aaf0"/>
<rect x="336.01" y="33.4" width="2.11" height="9.70" fill="#94aaf0"/>
<rect x="338.12" y="33.4" width="1.05" height="9.70" fill="#94aaf0"/>
<rect x="344.43" y="33.4" width="2.11" height="9.70" fill="#94aaf0"/>
<rect x="348.64" y="33.4" width="2.11" height="9.70" fill="#dcb4ea"/>
<rect x="353.91" y="33.4" width="1.05" height="9.70" fill="#eeb0d8"/>
<rect x="356.01" y="33.4" width="1.05" height="9.70" fill="#94aaf0"/>
<rect x="357.07" y="33.4" width="2.11" height="9.70" fill="#94aaf0"/>
<rect x="360.23" y="33.4" width="1.05" height="9.70" fill="#dcb4ea"/>
<rect x="364.44" y="33.4" width="1.05" height="9.70" fill="#94aaf0"/>
<rect x="373.91" y="33.4" width="1.05" height="9.70" fill="#94aaf0"/>
<rect x="377.07" y="33.4" width="1.05" height="9.70" fill="#eeb0d8"/>
<rect x="379.18" y="33.4" width="1.05" height="9.70" fill="#dcb4ea"/>
<rect x="380.23" y="33.4" width="2.11" height="9.70" fill="#94aaf0"/>
<rect x="384.44" y="33.4" width="1.05" height="9.70" fill="#eeb0d8"/>
<rect x="386.55" y="33.4" width="1.05" height="9.70" fill="#94aaf0"/>
<rect x="390.76" y="33.4" width="1.05" height="9.70" fill="#94aaf0"/>
<rect x="394.97" y="33.4" width="2.11" height="9.70" fill="#94aaf0"/>
<rect x="398.13" y="33.4" width="1.05" height="9.70" fill="#94aaf0"/>
<rect x="404.45" y="33.4" width="1.05" height="9.70" fill="#dcb4ea"/>
<rect x="412.87" y="33.4" width="2.11" height="9.70" fill="#dcb4ea"/>
<rect x="414.97" y="33.4" width="1.05" height="9.70" fill="#94aaf0"/>
<rect x="416.03" y="33.4" width="1.05" height="9.70" fill="#94aaf0"/>
<rect x="420.24" y="33.4" width="1.05" height="9.70" fill="#94aaf0"/>
<rect x="424.45" y="33.4" width="1.05" height="9.70" fill="#94aaf0"/>
<rect x="427.61" y="33.4" width="2.11" height="9.70" fill="#dcb4ea"/>
<rect x="429.71" y="33.4" width="2.11" height="9.70" fill="#94aaf0"/>
<rect x="431.82" y="33.4" width="2.11" height="9.70" fill="#94aaf0"/>
<rect x="436.03" y="33.4" width="1.05" height="9.70" fill="#94aaf0"/>
<rect x="438.14" y="33.4" width="1.05" height="9.70" fill="#94aaf0"/>
<rect x="440.24" y="33.4" width="2.11" height="9.70" fill="#94aaf0"/>
<rect x="448.67" y="33.4" width="1.05" height="9.70" fill="#94aaf0"/>
<rect x="451.82" y="33.4" width="1.05" height="9.70" fill="#94aaf0"/>
<rect x="463.41" y="33.4" width="1.05" height="9.70" fill="#dcb4ea"/>
<rect x="464.46" y="33.4" width="2.11" height="9.70" fill="#94aaf0"/>
<rect x="469.72" y="33.4" width="1.05" height="9.70" fill="#94aaf0"/>
<rect x="474.99" y="33.4" width="1.05" height="9.70" fill="#94aaf0"/>
<rect x="482.36" y="33.4" width="1.05" height="9.70" fill="#94aaf0"/>
<rect x="486.57" y="33.4" width="1.05" height="9.70" fill="#eeb0d8"/>
<rect x="487.62" y="33.4" width="1.05" height="9.70" fill="#94aaf0"/>
<rect x="489.73" y="33.4" width="2.11" height="9.70" fill="#dcb4ea"/>
<rect x="494.99" y="33.4" width="1.05" height="9.70" fill="#94aaf0"/>
<rect x="498.15" y="33.4" width="1.05" height="9.70" fill="#94aaf0"/>
<rect x="507.63" y="33.4" width="1.05" height="9.70" fill="#94aaf0"/>
<rect x="511.84" y="33.4" width="1.05" height="9.70" fill="#94aaf0"/>
<rect x="516.05" y="33.4" width="1.05" height="9.70" fill="#94aaf0"/>
<rect x="518.15" y="33.4" width="1.05" height="9.70" fill="#dcb4ea"/>
<rect x="529.74" y="33.4" width="1.05" height="9.70" fill="#dcb4ea"/>
<rect x="533.95" y="33.4" width="1.05" height="9.70" fill="#94aaf0"/>
<rect x="37.00" y="15.00" width="1.60" height="28.00" fill="#0d2f6e"/>
<rect x="145.60" y="15.00" width="1.40" height="28.00" fill="#111"/>
<text x="75.20" y="51.20" font-size="8.0" font-weight="bold" fill="#111" stroke="#111" stroke-width="0.1" textLength="42.80" lengthAdjust="spacingAndGlyphs" >Normal (n=1)</text>
<text x="140.90" y="51.20" font-size="8.0" font-weight="bold" fill="#111" stroke="#111" stroke-width="0.1" textLength="75.60" lengthAdjust="spacingAndGlyphs" >Primary tumor (n=104)</text>
<text x="238.40" y="51.20" font-size="8.0" font-weight="bold" fill="#111" stroke="#111" stroke-width="0.1" textLength="83.60" lengthAdjust="spacingAndGlyphs" >Metastatic tumor (n=368)</text>
<text x="482.00" y="48.20" font-size="3.6" font-weight="normal" fill="#777" textLength="20.70" lengthAdjust="spacingAndGlyphs" >Log2(TPM+1)</text>
<defs><linearGradient id="cb" x1="0" x2="1" y1="0" y2="0"><stop offset="0" stop-color="#0a6cf2"/><stop offset="0.25" stop-color="#4f8ef0"/><stop offset="0.55" stop-color="#f2b4ea"/><stop offset="0.8" stop-color="#f2506a"/><stop offset="1" stop-color="#f00010"/></linearGradient></defs>
<rect x="482.00" y="51.50" width="52.10" height="3.70" fill="url(#cb)"/>
<text x="482.80" y="60.60" font-size="3.4" font-weight="normal" fill="#888" text-anchor="middle">0</text>
<text x="499.30" y="60.60" font-size="3.4" font-weight="normal" fill="#888" text-anchor="middle">5</text>
<text x="516.20" y="60.60" font-size="3.4" font-weight="normal" fill="#888" text-anchor="middle">10</text>
<text x="532.30" y="60.60" font-size="3.4" font-weight="normal" fill="#888" text-anchor="middle">15</text>
<text x="3.70" y="67.50" font-size="10" font-weight="normal" fill="#222" stroke="#222" stroke-width="0.2" textLength="10.30" lengthAdjust="spacingAndGlyphs" >(B)</text>
<line x1="24.00" y1="61.00" x2="24.00" y2="172.00" stroke="#9a9a9a" stroke-width="0.9" />
<line x1="24.00" y1="172.00" x2="181.00" y2="172.00" stroke="#9a9a9a" stroke-width="0.9" />
<line x1="21.50" y1="172.00" x2="24.00" y2="172.00" stroke="#9a9a9a" stroke-width="0.8" />
<text x="20.80" y="173.50" font-size="4.4" fill="#8a8a8a" text-anchor="end">0</text>
<line x1="21.50" y1="156.14" x2="24.00" y2="156.14" stroke="#9a9a9a" stroke-width="0.8" />
<text x="20.80" y="157.64" font-size="4.4" fill="#8a8a8a" text-anchor="end">2</text>
<line x1="21.50" y1="140.29" x2="24.00" y2="140.29" stroke="#9a9a9a" stroke-width="0.8" />
<text x="20.80" y="141.79" font-size="4.4" fill="#8a8a8a" text-anchor="end">4</text>
<line x1="21.50" y1="124.43" x2="24.00" y2="124.43" stroke="#9a9a9a" stroke-width="0.8" />
<text x="20.80" y="125.93" font-size="4.4" fill="#8a8a8a" text-anchor="end">6</text>
<line x1="21.50" y1="108.57" x2="24.00" y2="108.57" stroke="#9a9a9a" stroke-width="0.8" />
<text x="20.80" y="110.07" font-size="4.4" fill="#8a8a8a" text-anchor="end">8</text>
<line x1="21.50" y1="92.71" x2="24.00" y2="92.71" stroke="#9a9a9a" stroke-width="0.8" />
<text x="20.80" y="94.21" font-size="4.4" fill="#8a8a8a" text-anchor="end">10</text>
<line x1="21.50" y1="76.86" x2="24.00" y2="76.86" stroke="#9a9a9a" stroke-width="0.8" />
<text x="20.80" y="78.36" font-size="4.4" fill="#8a8a8a" text-anchor="end">12</text>
<line x1="21.50" y1="61.00" x2="24.00" y2="61.00" stroke="#9a9a9a" stroke-width="0.8" />
<text x="20.80" y="62.50" font-size="4.4" fill="#8a8a8a" text-anchor="end">14</text>
<text x="64.60" y="68.40" font-size="8.4" font-weight="bold" fill="#111" stroke="#111" stroke-width="0.1" textLength="78.10" lengthAdjust="spacingAndGlyphs" >BRAF expression in SKM</text>
<text transform="translate(14.00,159.00) rotate(-90)" x="0" y="0" font-size="7.0" font-weight="bold" fill="#111" stroke="#111" stroke-width="0.12" textLength="75.00" lengthAdjust="spacingAndGlyphs">Transcript per million</text>
<line x1="38.30" y1="153.30" x2="64.00" y2="153.30" stroke="#222" stroke-width="1.3" />
<line x1="105.65" y1="97.70" x2="105.65" y2="132.10" stroke="#444" stroke-width="0.8" stroke-dasharray="1,1"/>
<line x1="105.65" y1="158.60" x2="105.65" y2="169.70" stroke="#444" stroke-width="0.8" stroke-dasharray="1,1"/>
<line x1="99.15" y1="97.70" x2="112.15" y2="97.70" stroke="#444" stroke-width="1" />
<line x1="99.15" y1="169.70" x2="112.15" y2="169.70" stroke="#444" stroke-width="1" />
<rect x="92.60" y="132.10" width="26.10" height="26.50" fill="#fdb52a"/>
<line x1="92.60" y1="146.20" x2="118.70" y2="146.20" stroke="#3a1a00" stroke-width="1.4" />
<line x1="159.80" y1="75.40" x2="159.80" y2="119.50" stroke="#444" stroke-width="0.8" stroke-dasharray="1,1"/>
<line x1="159.80" y1="147.10" x2="159.80" y2="171.20" stroke="#444" stroke-width="0.8" stroke-dasharray="1,1"/>
<line x1="153.30" y1="75.40" x2="166.30" y2="75.40" stroke="#444" stroke-width="1" />
<line x1="153.30" y1="171.20" x2="166.30" y2="171.20" stroke="#444" stroke-width="1" />
<rect x="146.70" y="119.50" width="26.20" height="27.60" fill="#ff3b0c"/>
<line x1="146.70" y1="134.50" x2="172.90" y2="134.50" stroke="#3a1a00" stroke-width="1.4" />
<text x="40.20" y="178.60" font-size="7.0" font-weight="normal" fill="#1a1a1a" stroke="#1a1a1a" stroke-width="0.2" textLength="20.30" lengthAdjust="spacingAndGlyphs" >Normal</text>
<text x="43.00" y="187.20" font-size="7.0" font-weight="normal" fill="#1a1a1a" stroke="#1a1a1a" stroke-width="0.2" textLength="15.20" lengthAdjust="spacingAndGlyphs" >(n=1)</text>
<text x="85.10" y="178.60" font-size="7.0" font-weight="normal" fill="#1a1a1a" stroke="#1a1a1a" stroke-width="0.2" textLength="40.40" lengthAdjust="spacingAndGlyphs" >Primary tumor</text>
<text x="95.50" y="187.20" font-size="7.0" font-weight="normal" fill="#1a1a1a" stroke="#1a1a1a" stroke-width="0.2" textLength="21.80" lengthAdjust="spacingAndGlyphs" >(n=104)</text>
<text x="133.90" y="178.60" font-size="7.0" font-weight="normal" fill="#1a1a1a" stroke="#1a1a1a" stroke-width="0.2" textLength="48.40" lengthAdjust="spacingAndGlyphs" >Metastatic tumor</text>
<text x="147.30" y="187.20" font-size="7.0" font-weight="normal" fill="#1a1a1a" stroke="#1a1a1a" stroke-width="0.2" textLength="21.60" lengthAdjust="spacingAndGlyphs" >(n=368)</text>
<line x1="201.00" y1="62.00" x2="201.00" y2="172.30" stroke="#9a9a9a" stroke-width="0.9" />
<line x1="201.00" y1="172.30" x2="357.50" y2="172.30" stroke="#9a9a9a" stroke-width="0.9" />
<line x1="198.50" y1="172.30" x2="201.00" y2="172.30" stroke="#9a9a9a" stroke-width="0.8" />
<text x="197.80" y="173.80" font-size="4.4" fill="#8a8a8a" text-anchor="end">0</text>
<line x1="198.50" y1="150.24" x2="201.00" y2="150.24" stroke="#9a9a9a" stroke-width="0.8" />
<text x="197.80" y="151.74" font-size="4.4" fill="#8a8a8a" text-anchor="end">5</text>
<line x1="198.50" y1="128.18" x2="201.00" y2="128.18" stroke="#9a9a9a" stroke-width="0.8" />
<text x="197.80" y="129.68" font-size="4.4" fill="#8a8a8a" text-anchor="end">10</text>
<line x1="198.50" y1="106.12" x2="201.00" y2="106.12" stroke="#9a9a9a" stroke-width="0.8" />
<text x="197.80" y="107.62" font-size="4.4" fill="#8a8a8a" text-anchor="end">15</text>
<line x1="198.50" y1="84.06" x2="201.00" y2="84.06" stroke="#9a9a9a" stroke-width="0.8" />
<text x="197.80" y="85.56" font-size="4.4" fill="#8a8a8a" text-anchor="end">20</text>
<line x1="198.50" y1="62.00" x2="201.00" y2="62.00" stroke="#9a9a9a" stroke-width="0.8" />
<text x="197.80" y="63.50" font-size="4.4" fill="#8a8a8a" text-anchor="end">25</text>
<text x="234.70" y="68.40" font-size="8.4" font-weight="bold" fill="#111" stroke="#111" stroke-width="0.1" textLength="79.20" lengthAdjust="spacingAndGlyphs" >KRAS expression in SKM</text>
<text transform="translate(188.40,157.40) rotate(-90)" x="0" y="0" font-size="7.0" font-weight="bold" fill="#111" stroke="#111" stroke-width="0.12" textLength="74.50" lengthAdjust="spacingAndGlyphs">Transcript per million</text>
<line x1="215.00" y1="125.20" x2="241.70" y2="125.20" stroke="#222" stroke-width="1.3" />
<line x1="283.40" y1="73.30" x2="283.40" y2="119.70" stroke="#444" stroke-width="0.8" stroke-dasharray="1,1"/>
<line x1="283.40" y1="153.20" x2="283.40" y2="168.80" stroke="#444" stroke-width="0.8" stroke-dasharray="1,1"/>
<line x1="276.90" y1="73.30" x2="289.90" y2="73.30" stroke="#444" stroke-width="1" />
<line x1="276.90" y1="168.80" x2="289.90" y2="168.80" stroke="#444" stroke-width="1" />
<rect x="270.10" y="119.70" width="26.60" height="33.50" fill="#fdb52a"/>
<line x1="270.10" y1="138.50" x2="296.70" y2="138.50" stroke="#3a1a00" stroke-width="1.4" />
<line x1="338.00" y1="67.10" x2="338.00" y2="112.60" stroke="#444" stroke-width="0.8" stroke-dasharray="1,1"/>
<line x1="338.00" y1="142.00" x2="338.00" y2="168.30" stroke="#444" stroke-width="0.8" stroke-dasharray="1,1"/>
<line x1="331.50" y1="67.10" x2="344.50" y2="67.10" stroke="#444" stroke-width="1" />
<line x1="331.50" y1="168.30" x2="344.50" y2="168.30" stroke="#444" stroke-width="1" />
<rect x="324.70" y="112.60" width="26.60" height="29.40" fill="#ff3b0c"/>
<line x1="324.70" y1="124.80" x2="351.30" y2="124.80" stroke="#3a1a00" stroke-width="1.4" />
<text x="216.40" y="178.60" font-size="7.0" font-weight="normal" fill="#1a1a1a" stroke="#1a1a1a" stroke-width="0.2" textLength="21.00" lengthAdjust="spacingAndGlyphs" >Normal</text>
<text x="219.40" y="187.20" font-size="7.0" font-weight="normal" fill="#1a1a1a" stroke="#1a1a1a" stroke-width="0.2" textLength="15.00" lengthAdjust="spacingAndGlyphs" >(n=1)</text>
<text x="260.50" y="178.60" font-size="7.0" font-weight="normal" fill="#1a1a1a" stroke="#1a1a1a" stroke-width="0.2" textLength="41.10" lengthAdjust="spacingAndGlyphs" >Primary tumor</text>
<text x="271.00" y="187.20" font-size="7.0" font-weight="normal" fill="#1a1a1a" stroke="#1a1a1a" stroke-width="0.2" textLength="21.60" lengthAdjust="spacingAndGlyphs" >(n=104)</text>
<text x="314.60" y="178.60" font-size="7.0" font-weight="normal" fill="#1a1a1a" stroke="#1a1a1a" stroke-width="0.2" textLength="48.00" lengthAdjust="spacingAndGlyphs" >Metastatic tumor</text>
<text x="329.60" y="187.20" font-size="7.0" font-weight="normal" fill="#1a1a1a" stroke="#1a1a1a" stroke-width="0.2" textLength="20.10" lengthAdjust="spacingAndGlyphs" >(n=368)</text>
<line x1="380.50" y1="61.60" x2="380.50" y2="172.30" stroke="#9a9a9a" stroke-width="0.9" />
<line x1="380.50" y1="172.30" x2="535.00" y2="172.30" stroke="#9a9a9a" stroke-width="0.9" />
<line x1="378.00" y1="172.30" x2="380.50" y2="172.30" stroke="#9a9a9a" stroke-width="0.8" />
<text x="377.30" y="173.80" font-size="4.4" fill="#8a8a8a" text-anchor="end">0</text>
<line x1="378.00" y1="153.85" x2="380.50" y2="153.85" stroke="#9a9a9a" stroke-width="0.8" />
<text x="377.30" y="155.35" font-size="4.4" fill="#8a8a8a" text-anchor="end">25</text>
<line x1="378.00" y1="135.40" x2="380.50" y2="135.40" stroke="#9a9a9a" stroke-width="0.8" />
<text x="377.30" y="136.90" font-size="4.4" fill="#8a8a8a" text-anchor="end">50</text>
<line x1="378.00" y1="116.95" x2="380.50" y2="116.95" stroke="#9a9a9a" stroke-width="0.8" />
<text x="377.30" y="118.45" font-size="4.4" fill="#8a8a8a" text-anchor="end">75</text>
<line x1="378.00" y1="98.50" x2="380.50" y2="98.50" stroke="#9a9a9a" stroke-width="0.8" />
<text x="377.30" y="100.00" font-size="4.4" fill="#8a8a8a" text-anchor="end">100</text>
<line x1="378.00" y1="80.05" x2="380.50" y2="80.05" stroke="#9a9a9a" stroke-width="0.8" />
<text x="377.30" y="81.55" font-size="4.4" fill="#8a8a8a" text-anchor="end">125</text>
<line x1="378.00" y1="61.60" x2="380.50" y2="61.60" stroke="#9a9a9a" stroke-width="0.8" />
<text x="377.30" y="63.10" font-size="4.4" fill="#8a8a8a" text-anchor="end">150</text>
<text x="420.20" y="68.40" font-size="8.4" font-weight="bold" fill="#111" stroke="#111" stroke-width="0.1" textLength="72.00" lengthAdjust="spacingAndGlyphs" >KIT expression in SKM</text>
<text transform="translate(367.40,157.40) rotate(-90)" x="0" y="0" font-size="7.0" font-weight="bold" fill="#111" stroke="#111" stroke-width="0.12" textLength="74.50" lengthAdjust="spacingAndGlyphs">Transcript per million</text>
<line x1="395.50" y1="170.90" x2="420.70" y2="170.90" stroke="#222" stroke-width="1.3" />
<line x1="460.95" y1="80.30" x2="460.95" y2="146.60" stroke="#444" stroke-width="0.8" stroke-dasharray="1,1"/>
<line x1="460.95" y1="169.90" x2="460.95" y2="171.50" stroke="#444" stroke-width="0.8" stroke-dasharray="1,1"/>
<line x1="454.45" y1="80.30" x2="467.45" y2="80.30" stroke="#444" stroke-width="1" />
<line x1="454.45" y1="171.50" x2="467.45" y2="171.50" stroke="#444" stroke-width="1" />
<rect x="447.90" y="146.60" width="26.10" height="23.30" fill="#fdb52a"/>
<line x1="447.90" y1="163.30" x2="474.00" y2="163.30" stroke="#3a1a00" stroke-width="1.4" />
<line x1="514.40" y1="130.60" x2="514.40" y2="162.00" stroke="#444" stroke-width="0.8" stroke-dasharray="1,1"/>
<line x1="514.40" y1="171.60" x2="514.40" y2="171.60" stroke="#444" stroke-width="0.8" stroke-dasharray="1,1"/>
<line x1="507.90" y1="130.60" x2="520.90" y2="130.60" stroke="#444" stroke-width="1" />
<line x1="507.90" y1="171.60" x2="520.90" y2="171.60" stroke="#444" stroke-width="1" />
<rect x="501.10" y="162.00" width="26.60" height="9.60" fill="#ff3b0c"/>
<line x1="501.10" y1="170.50" x2="527.70" y2="170.50" stroke="#3a1a00" stroke-width="1.4" />
<text x="395.50" y="178.60" font-size="7.0" font-weight="normal" fill="#1a1a1a" stroke="#1a1a1a" stroke-width="0.2" textLength="21.00" lengthAdjust="spacingAndGlyphs" >Normal</text>
<text x="398.50" y="187.20" font-size="7.0" font-weight="normal" fill="#1a1a1a" stroke="#1a1a1a" stroke-width="0.2" textLength="15.00" lengthAdjust="spacingAndGlyphs" >(n=1)</text>
<text x="439.00" y="178.60" font-size="7.0" font-weight="normal" fill="#1a1a1a" stroke="#1a1a1a" stroke-width="0.2" textLength="41.40" lengthAdjust="spacingAndGlyphs" >Primary tumor</text>
<text x="449.00" y="187.20" font-size="7.0" font-weight="normal" fill="#1a1a1a" stroke="#1a1a1a" stroke-width="0.2" textLength="23.00" lengthAdjust="spacingAndGlyphs" >(n=104)</text>
<text x="488.50" y="178.60" font-size="7.0" font-weight="normal" fill="#1a1a1a" stroke="#1a1a1a" stroke-width="0.2" textLength="48.90" lengthAdjust="spacingAndGlyphs" >Metastatic tumor</text>
<text x="503.50" y="187.20" font-size="7.0" font-weight="normal" fill="#1a1a1a" stroke="#1a1a1a" stroke-width="0.2" textLength="19.50" lengthAdjust="spacingAndGlyphs" >(n=368)</text>
<text x="3.50" y="205.80" font-size="10" font-weight="normal" fill="#222" stroke="#222" stroke-width="0.2" textLength="10.80" lengthAdjust="spacingAndGlyphs" >(C)</text>
<line x1="19.50" y1="188.20" x2="19.50" y2="332.20" stroke="#c8c8c8" stroke-width="0.9" />
<line x1="19.50" y1="332.20" x2="189.50" y2="332.20" stroke="#c8c8c8" stroke-width="0.9" />
<text x="18.00" y="326.50" font-size="3.0" fill="#aaa" text-anchor="end">0.00</text>
<text x="18.00" y="293.50" font-size="3.0" fill="#aaa" text-anchor="end">0.25</text>
<text x="18.00" y="260.50" font-size="3.0" fill="#aaa" text-anchor="end">0.50</text>
<text x="18.00" y="227.50" font-size="3.0" fill="#aaa" text-anchor="end">0.75</text>
<text x="18.00" y="194.50" font-size="3.0" fill="#aaa" text-anchor="end">1.00</text>
<text x="27.00" y="335.60" font-size="3.0" font-weight="normal" fill="#aaa" text-anchor="middle">0</text>
<text x="68.00" y="335.60" font-size="3.0" font-weight="normal" fill="#aaa" text-anchor="middle">2000</text>
<text x="109.00" y="335.60" font-size="3.0" font-weight="normal" fill="#aaa" text-anchor="middle">4000</text>
<text x="150.00" y="335.60" font-size="3.0" font-weight="normal" fill="#aaa" text-anchor="middle">6000</text>
<text x="34.90" y="198.90" font-size="7.9" font-weight="normal" fill="#111" stroke="#111" stroke-width="0.32" textLength="152.40" lengthAdjust="spacingAndGlyphs" >BRAF expression effect on SKM patient survival</text>
<text transform="translate(12.40,296.00) rotate(-90)" x="0" y="0" font-size="6.6" font-weight="bold" fill="#111" stroke="#111" stroke-width="0.12" textLength="64.50" lengthAdjust="spacingAndGlyphs">Survival probability</text>
<text x="80.80" y="234.40" font-size="7.0" font-weight="bold" fill="#ee7634" textLength="73.80" lengthAdjust="spacingAndGlyphs" >+ High expression (n=116)</text>
<text x="80.80" y="243.60" font-size="7.0" font-weight="bold" fill="#1e78d2" textLength="97.40" lengthAdjust="spacingAndGlyphs" >+ Low/Medium expression (n=343)</text>
<text x="38.00" y="302.10" font-size="8.6" font-weight="bold" fill="#111" textLength="24.50" lengthAdjust="spacingAndGlyphs">p = 0.5</text>
<path d="M26.90,194.50 L29.40,194.50 L31.20,198.30 L32.00,205.00 L33.70,206.90 L37.20,215.50 L40.60,224.00 L44.00,228.30 L47.50,231.80 L48.00,235.00 L50.60,244.50 L53.20,249.60 L57.50,252.20 L61.70,253.90 L66.00,254.80 L68.60,260.80 L72.00,266.80 L75.50,271.00 L78.00,272.80 L83.20,273.70 L87.50,278.00 L90.00,278.40 L92.10,278.40 L92.90,281.30 L97.20,281.30 L97.90,287.00 L100.70,287.00 L100.70,290.30 L112.60,290.30 L112.60,294.20 L117.90,294.20 L117.90,302.10 L121.80,302.10 L121.80,307.00 L152.60,307.00 L152.60,311.50 L170.40,311.50 L170.40,316.60 L177.80,316.60" fill="none" stroke="#f2875e" stroke-width="1.15"/>
<path d="M178.20,320.70 L183.20,320.70" fill="none" stroke="#f2875e" stroke-width="1.15"/>
<path d="M26.90,194.50 L29.40,194.50 L31.20,198.30 L32.00,205.00 L33.70,210.30 L37.20,219.80 L38.90,229.20 L42.30,233.50 L45.80,237.80 L48.30,244.70 L51.40,248.70 L55.70,259.90 L59.20,263.40 L63.50,265.90 L68.60,267.60 L72.00,270.20 L78.00,273.70 L84.00,278.00 L90.00,280.50 L92.90,282.70 L95.70,284.20 L97.90,287.80 L100.70,292.50 L112.90,292.50 L112.90,294.90 L123.00,294.90 L123.00,299.20 L131.50,299.20 L131.50,304.70 L140.40,304.70 L140.40,311.80 L183.00,311.80" fill="none" stroke="#3d83e0" stroke-width="1.15"/>
<text x="95.00" y="343.20" font-size="7.2" font-weight="bold" fill="#111" textLength="34.70" lengthAdjust="spacingAndGlyphs" >Time in days</text>
<line x1="197.50" y1="188.20" x2="197.50" y2="333.20" stroke="#c8c8c8" stroke-width="0.9" />
<line x1="197.50" y1="333.20" x2="365.00" y2="333.20" stroke="#c8c8c8" stroke-width="0.9" />
<text x="196.00" y="327.80" font-size="3.0" fill="#aaa" text-anchor="end">0.00</text>
<text x="196.00" y="294.75" font-size="3.0" fill="#aaa" text-anchor="end">0.25</text>
<text x="196.00" y="261.70" font-size="3.0" fill="#aaa" text-anchor="end">0.50</text>
<text x="196.00" y="228.65" font-size="3.0" fill="#aaa" text-anchor="end">0.75</text>
<text x="196.00" y="195.60" font-size="3.0" fill="#aaa" text-anchor="end">1.00</text>
<text x="204.70" y="335.60" font-size="3.0" font-weight="normal" fill="#aaa" text-anchor="middle">0</text>
<text x="247.30" y="335.60" font-size="3.0" font-weight="normal" fill="#aaa" text-anchor="middle">2000</text>
<text x="289.90" y="335.60" font-size="3.0" font-weight="normal" fill="#aaa" text-anchor="middle">4000</text>
<text x="332.50" y="335.60" font-size="3.0" font-weight="normal" fill="#aaa" text-anchor="middle">6000</text>
<text x="213.20" y="198.90" font-size="7.9" font-weight="normal" fill="#111" stroke="#111" stroke-width="0.32" textLength="152.40" lengthAdjust="spacingAndGlyphs" >KRAS expression effect on SKM patient survival</text>
<text transform="translate(191.10,296.00) rotate(-90)" x="0" y="0" font-size="6.6" font-weight="bold" fill="#111" stroke="#111" stroke-width="0.12" textLength="64.50" lengthAdjust="spacingAndGlyphs">Survival probability</text>
<text x="259.80" y="234.00" font-size="7.0" font-weight="bold" fill="#ee7634" textLength="73.10" lengthAdjust="spacingAndGlyphs" >+ High expression (n=118)</text>
<text x="259.80" y="243.60" font-size="7.0" font-weight="bold" fill="#1e78d2" textLength="98.20" lengthAdjust="spacingAndGlyphs" >+ Low/Medium expression (n=341)</text>
<text x="205.50" y="302.30" font-size="8.6" font-weight="bold" fill="#111" textLength="29.30" lengthAdjust="spacingAndGlyphs">p = 0.52</text>
<path d="M204.90,195.30 L208.30,195.30 L210.60,201.80 L212.90,210.90 L215.20,217.80 L218.60,228.10 L222.10,235.00 L225.50,239.60 L229.00,246.50 L232.40,253.40 L235.80,257.00 L240.00,260.00 L243.60,260.00 L245.00,263.60 L247.90,265.70 L250.00,268.60 L251.50,272.20 L252.90,275.00 L255.00,277.20 L257.90,280.00 L261.50,282.20 L267.90,282.20 L270.10,285.80 L272.20,289.40 L275.80,292.50 L277.50,292.50 L277.50,300.60 L293.00,300.60 L293.00,310.70 L333.00,310.70 L333.00,316.40 L351.40,316.40" fill="none" stroke="#f2875e" stroke-width="1.15"/>
<path d="M204.90,195.30 L208.30,195.30 L210.60,201.80 L212.90,210.90 L215.20,217.80 L218.60,228.10 L222.10,235.00 L225.50,239.60 L229.00,246.50 L232.40,253.40 L235.80,258.00 L240.40,261.40 L242.90,264.30 L246.40,265.70 L250.00,268.60 L252.20,270.50 L256.50,272.90 L260.00,275.00 L264.40,277.90 L269.40,277.90 L270.80,280.80 L276.50,280.80 L278.70,285.00 L280.80,289.40 L298.30,289.40 L298.30,294.40 L301.70,294.40 L301.70,300.50 L311.40,300.50 L311.40,305.70 L321.00,305.70 L321.00,311.20 L365.00,311.20" fill="none" stroke="#3d83e0" stroke-width="1.15"/>
<text x="275.00" y="343.20" font-size="7.2" font-weight="bold" fill="#111" textLength="35.30" lengthAdjust="spacingAndGlyphs" >Time in days</text>
<line x1="375.30" y1="188.20" x2="375.30" y2="333.20" stroke="#c8c8c8" stroke-width="0.9" />
<line x1="375.30" y1="333.20" x2="546.30" y2="333.20" stroke="#c8c8c8" stroke-width="0.9" />
<text x="373.80" y="327.80" font-size="3.0" fill="#aaa" text-anchor="end">0.00</text>
<text x="373.80" y="295.60" font-size="3.0" fill="#aaa" text-anchor="end">0.25</text>
<text x="373.80" y="263.40" font-size="3.0" fill="#aaa" text-anchor="end">0.50</text>
<text x="373.80" y="231.20" font-size="3.0" fill="#aaa" text-anchor="end">0.75</text>
<text x="373.80" y="199.00" font-size="3.0" fill="#aaa" text-anchor="end">1.00</text>
<text x="383.50" y="335.60" font-size="3.0" font-weight="normal" fill="#aaa" text-anchor="middle">0</text>
<text x="426.00" y="335.60" font-size="3.0" font-weight="normal" fill="#aaa" text-anchor="middle">2000</text>
<text x="468.50" y="335.60" font-size="3.0" font-weight="normal" fill="#aaa" text-anchor="middle">4000</text>
<text x="511.00" y="335.60" font-size="3.0" font-weight="normal" fill="#aaa" text-anchor="middle">6000</text>
<text x="392.00" y="198.90" font-size="7.9" font-weight="normal" fill="#111" stroke="#111" stroke-width="0.32" textLength="147.10" lengthAdjust="spacingAndGlyphs" >KIT expression effect on SKM patient survival</text>
<text transform="translate(369.20,296.00) rotate(-90)" x="0" y="0" font-size="6.6" font-weight="bold" fill="#111" stroke="#111" stroke-width="0.12" textLength="63.00" lengthAdjust="spacingAndGlyphs">Survival probability</text>
<text x="438.30" y="233.80" font-size="7.0" font-weight="bold" fill="#ee7634" textLength="72.90" lengthAdjust="spacingAndGlyphs" >+ High expression (n=116)</text>
<text x="438.30" y="243.60" font-size="7.0" font-weight="bold" fill="#1e78d2" textLength="98.70" lengthAdjust="spacingAndGlyphs" >+ Low/Medium expression (n=343)</text>
<text x="381.00" y="302.40" font-size="8.6" font-weight="bold" fill="#111" textLength="39.00" lengthAdjust="spacingAndGlyphs">p &lt; 0.0001</text>
<path d="M383.60,198.00 L386.00,198.00 L387.60,203.00 L389.00,212.10 L390.50,222.20 L392.10,231.20 L393.70,238.20 L396.10,244.30 L398.10,249.30 L401.10,250.30 L402.40,255.00 L403.90,264.50 L405.50,270.00 L407.10,271.60 L409.50,274.70 L411.80,277.10 L415.00,278.70 L418.10,280.20 L420.50,283.40 L422.90,285.00 L425.20,288.10 L428.40,289.70 L430.80,291.30 L433.10,292.90 L434.70,296.30 L442.60,296.30 L444.20,300.00 L448.90,300.30 L448.90,303.90 L460.00,303.90 L460.00,310.20 L482.80,310.20 L482.80,315.70 L491.50,315.70 L491.50,321.20 L494.60,321.20" fill="none" stroke="#f2875e" stroke-width="1.15"/>
<path d="M383.60,198.00 L386.00,198.00 L388.00,202.00 L390.00,209.10 L393.10,213.10 L396.10,220.10 L399.10,228.20 L402.10,232.20 L406.10,239.20 L410.20,243.30 L414.20,252.30 L415.00,255.00 L418.90,257.40 L423.70,258.90 L426.80,260.50 L429.20,264.50 L433.10,267.60 L437.90,269.20 L441.00,271.60 L444.20,273.90 L448.20,276.30 L452.10,277.90 L456.00,279.50 L456.00,284.20 L459.20,288.10 L471.00,288.10 L471.00,292.10 L476.50,292.10 L476.50,296.00 L478.90,296.00 L478.90,299.50 L500.40,299.50 L500.40,304.30 L531.50,304.30 L531.50,310.10 L538.70,310.10 L538.70,315.50 L544.40,315.50" fill="none" stroke="#3d83e0" stroke-width="1.15"/>
<text x="454.20" y="343.20" font-size="7.2" font-weight="bold" fill="#111" textLength="34.80" lengthAdjust="spacingAndGlyphs" >Time in days</text>
</svg></body></html>
